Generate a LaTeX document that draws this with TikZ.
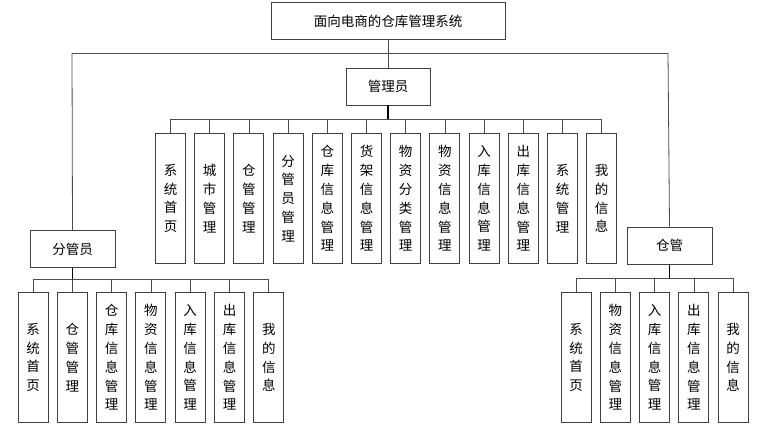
\documentclass[tikz,border=0pt]{standalone}
\usepackage{fontspec}
\setmainfont{Noto Sans CJK SC}
\begin{document}
\begin{tikzpicture}[x=1pt,y=-1pt,
  hbox/.style={draw=black!75,line width=0.9pt,minimum height=37pt,inner sep=0pt,font=\fontsize{13.5}{15}\selectfont},
  vbox/.style={draw=black!75,line width=0.9pt,minimum width=30pt,minimum height=130pt,inner sep=0pt,align=center,font=\fontsize{13.5}{18.8}\selectfont},
  ln/.style={draw=black!70,line width=0.8pt}]
\useasboundingbox (0,0) rectangle (759,433);
\node[hbox,minimum width=234pt] (top) at (388,21) {面向电商的仓库管理系统};
\node[hbox,minimum width=84pt] (adm) at (388,86.5) {管理员};
\node[hbox,minimum width=85pt] (fg) at (72.5,249) {分管员};
\node[hbox,minimum width=85pt] (cg) at (669.5,245.5) {仓管};
\coordinate (hl) at (72,53); \coordinate (hr) at (668,53);
\draw[ln] (top.south) -- (adm.north);
\draw[ln] (hl) -- (hr);
\draw[ln] (hl) -- (fg.north);
\draw[ln] (hr) -- (cg.north);
% admin children
\foreach \t [count=\i from 0] in {系\\统\\首\\页,城\\市\\管\\理,仓\\管\\管\\理,分\\管\\员\\管\\理,仓\\库\\信\\息\\管\\理,货\\架\\信\\息\\管\\理,物\\资\\分\\类\\管\\理,物\\资\\信\\息\\管\\理,入\\库\\信\\息\\管\\理,出\\库\\信\\息\\管\\理,系\\统\\管\\理,我\\的\\信\\息}{
  \node[vbox] (a\i) at ({170.5+39.2*\i},198.5) {\t};
  \draw[ln] ({170.5+39.2*\i},119) -- (a\i.north);
}
\draw[ln] (a0.north |- 0,119) -- (a11.north |- 0,119);
\draw[line width=1.6pt] (adm.south) -- (388,119);
% fg children
\foreach \t [count=\i from 0] in {系\\统\\首\\页,仓\\管\\管\\理,仓\\库\\信\\息\\管\\理,物\\资\\信\\息\\管\\理,入\\库\\信\\息\\管\\理,出\\库\\信\\息\\管\\理,我\\的\\信\\息}{
  \node[vbox] (f\i) at ({33+39.3*\i},357.5) {\t};
  \draw[ln] ({33+39.3*\i},279) -- (f\i.north);
}
\draw[ln] (f0.north |- 0,279) -- (f6.north |- 0,279);
\draw[line width=1.6pt] (fg.south) -- (72.5,279);
% cg children
\foreach \t [count=\i from 0] in {系\\统\\首\\页,物\\资\\信\\息\\管\\理,入\\库\\信\\息\\管\\理,出\\库\\信\\息\\管\\理,我\\的\\信\\息}{
  \node[vbox] (c\i) at ({576+39.3*\i},357.5) {\t};
  \draw[ln] ({576+39.3*\i},278) -- (c\i.north);
}
\draw[ln] (c0.north |- 0,278) -- (c4.north |- 0,278);
\draw[line width=1.6pt] (cg.south) -- (669.5,278);
\end{tikzpicture}
\end{document}
